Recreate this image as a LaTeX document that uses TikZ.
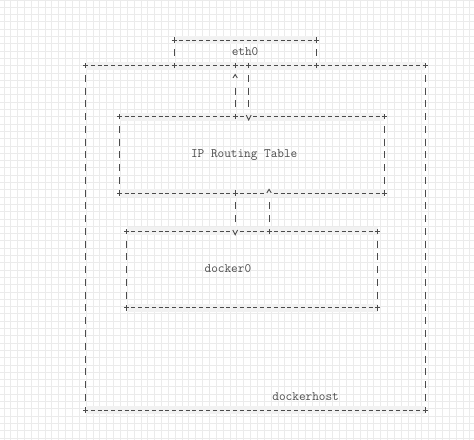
\documentclass[tikz,border=0pt]{standalone}
\usepackage{fontspec}
\usetikzlibrary{fit,calc}
\definecolor{ink}{RGB}{75,75,75}
\definecolor{gridc}{RGB}{235,235,235}
\definecolor{bandc}{RGB}{242,242,242}
\tikzset{
  frame/.style={inner sep=0pt, outer sep=0pt, draw=none},
  hline/.style={draw=ink, line width=1pt, dash pattern=on 4pt off 2.78pt, dash phase=5.39pt, shorten <=3.39pt, shorten >=3.39pt},
  vline/.style={draw=ink, line width=1pt, dash pattern=on 7pt off 5.76pt, dash phase=9.88pt, shorten <=6.38pt, shorten >=6.38pt},
  bandline/.style={draw=bandc, line width=8pt},
  plusmark/.style={draw=ink, line width=1pt},
  tipmark/.style={draw=ink, line width=0.9pt, line join=miter},
  txt/.style={font=\ttfamily\fontsize{12.9pt}{12.76pt}\selectfont, text=ink, inner sep=0pt, outer sep=0pt, anchor=mid west, yshift=-0.8pt},
}
\newcommand\plusat[1]{\draw[plusmark] (#1) +(-2.5pt,0) -- +(2.5pt,0) (#1) +(0,-2.7pt) -- +(0,2.7pt);}
\newcommand\upat[1]{\draw[tipmark] (#1) +(-2.2pt,0.3pt) -- +(0,3.8pt) -- +(2.2pt,0.3pt);}
\newcommand\downat[1]{\draw[tipmark] (#1) +(-2.4pt,1.4pt) -- +(0,-3.4pt) -- +(2.4pt,1.4pt);}
\begin{document}
\begin{tikzpicture}[x=6.78pt, y=-12.76pt]
\useasboundingbox[fill=white] (-12.684,-3.135) rectangle (57.227,31.27);
% background grid
\begin{scope}[yshift=-3.6pt]
\draw[gridc, line width=0.5pt, xstep=6.85pt, ystep=7.3pt] (-14,-5) grid (59,33);
\end{scope}

% boxes
\node[frame, fit={(13,0) (34,2)}] (eth0) {};
\node[frame, fit={(0,2) (50,29)}] (host) {};
\node[frame, fit={(5,6) (44,12)}] (ipt) {};
\node[frame, fit={(6,15) (43,21)}] (dock) {};

\coordinate (colA) at (22,0);
\coordinate (colB) at (24,0);
\coordinate (colC) at (27,0);

% light bands behind the horizontal rows
\foreach \a/\b in {eth0.north west/eth0.north east, host.north west/host.north east, host.south west/host.south east, ipt.north west/ipt.north east, ipt.south west/ipt.south east, dock.north west/dock.north east, dock.south west/dock.south east}
  {\draw[bandline] (\a) -- (\b);}

% eth0 box
\draw[hline] (eth0.north west) -- (eth0.north east);
\draw[vline] (eth0.north west) -- (eth0.south west);
\draw[vline] (eth0.north east) -- (eth0.south east);

% dockerhost box
\draw[hline] (host.north west) -- (host.north east);
\draw[hline] (host.south west) -- (host.south east);
\draw[vline] (host.north west) -- (host.south west);
\draw[vline] (host.north east) -- (host.south east);

% IP routing table box
\draw[hline] (ipt.north west) -- (colB |- ipt.north);
\draw[hline] (colB |- ipt.north) -- (ipt.north east);
\draw[hline] (ipt.south west) -- (colC |- ipt.south);
\draw[hline] (colC |- ipt.south) -- (ipt.south east);
\draw[vline] (ipt.north west) -- (ipt.south west);
\draw[vline] (ipt.north east) -- (ipt.south east);

% docker0 box
\draw[hline] (dock.north west) -- (colA |- dock.north);
\draw[hline] (colA |- dock.north) -- (dock.north east);
\draw[hline] (dock.south west) -- (dock.south east);
\draw[vline] (dock.north west) -- (dock.south west);
\draw[vline] (dock.north east) -- (dock.south east);

% connectors
\coordinate (upA) at ($(colA |- host.north)+(0,1)$);
\draw[vline] (upA) -- (colA |- ipt.north);
\upat{upA}
\draw[vline] (colB |- host.north) -- (colB |- ipt.north);
\downat{colB |- ipt.north}
\draw[vline] (colA |- ipt.south) -- (colA |- dock.north);
\downat{colA |- dock.north}
\draw[vline] (colC |- dock.north) -- (colC |- ipt.south);
\upat{colC |- ipt.south}

% corner and junction pluses
\foreach \p in {eth0.north west, eth0.north east, eth0.south west, eth0.south east,
  host.north west, host.north east, host.south west, host.south east,
  ipt.north west, ipt.north east, ipt.south west, ipt.south east,
  dock.north west, dock.north east, dock.south west, dock.south east}
  {\plusat{\p}}
\plusat{colA |- host.north}
\plusat{colB |- host.north}
\plusat{colA |- ipt.north}
\plusat{colA |- ipt.south}
\plusat{colC |- dock.north}

% labels
\node[txt] (leth0) at (21.5,1) {eth0};
\node[txt] (lipt) at (15.5,9) {IP Routing Table};
\node[txt] (ldock) at (17.5,18) {docker0};
\node[txt] (lhost) at (27.5,28) {dockerhost};
\end{tikzpicture}
\end{document}
